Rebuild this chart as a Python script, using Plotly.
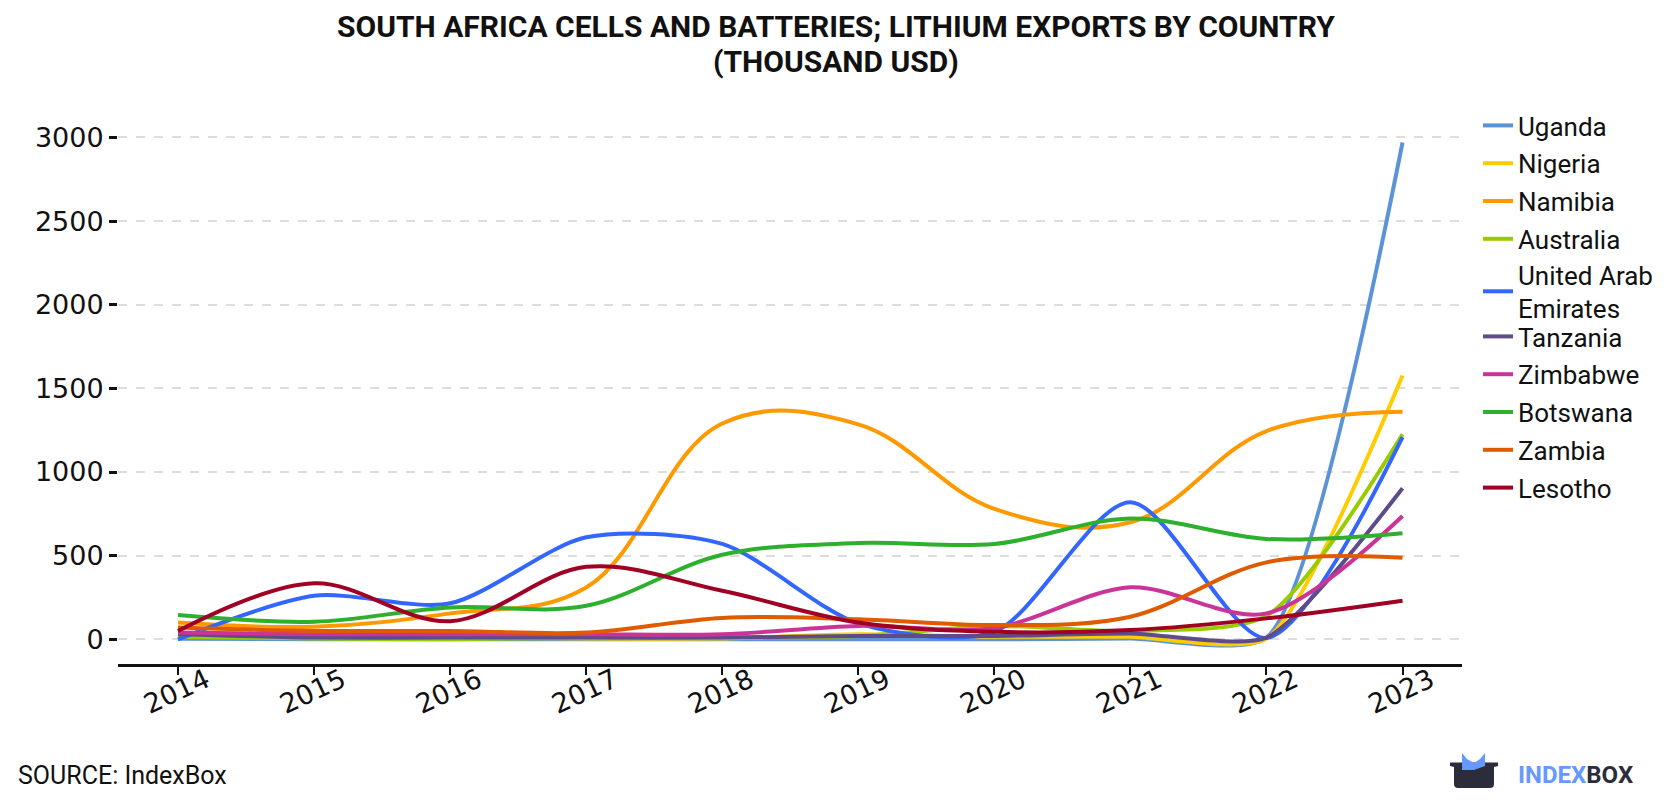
import plotly.graph_objects as go

years = [2014, 2015, 2016, 2017, 2018, 2019, 2020, 2021, 2022, 2023]

uganda = [3, 0, 0, 0, 0, 0, 0, 5, 10, 2970]
nigeria = [20, 10, 10, 5, 5, 30, 15, 15, 5, 1577]
namibia = [100, 75, 155, 310, 1290, 1285, 780, 700, 1245, 1361]
australia = [15, 5, 0, 10, 10, 20, 80, 50, 140, 1226]
uae = [0, 260, 215, 610, 570, 95, 45, 820, 8, 1208]
tanzania = [30, 10, 10, 10, 10, 20, 20, 35, 10, 903]
zimbabwe = [40, 30, 30, 30, 30, 80, 67, 311, 155, 737]
botswana = [145, 105, 190, 200, 505, 575, 570, 722, 600, 634]
zambia = [70, 50, 50, 40, 128, 120, 85, 135, 460, 488]
lesotho = [50, 335, 108, 433, 290, 100, 45, 55, 125, 231]

series = [
    ("Uganda", uganda, "#5B93D7", 0.6, "legend"),
    ("Nigeria", nigeria, "#FFCC00", 0.6, "legend"),
    ("Namibia", namibia, "#FF9900", 1.1, "legend"),
    ("Australia", australia, "#99CC00", 0.7, "legend"),
    ("United Arab<br>Emirates", uae, "#3366FF", 0.8, "legend3"),
    ("Tanzania", tanzania, "#5E4C8A", 0.6, "legend2"),
    ("Zimbabwe", zimbabwe, "#CC3399", 0.9, "legend2"),
    ("Botswana", botswana, "#2DB02D", 1.0, "legend2"),
    ("Zambia", zambia, "#E05A00", 1.0, "legend2"),
    ("Lesotho", lesotho, "#A10025", 1.0, "legend2"),
]

W, H = 1680, 800
ML, MR, MT, MB = 118, 218, 100, 136
PW, PH = W - ML - MR, H - MT - MB


def px(x):
    return (x - ML) / PW


def py(y):
    return (H - MB - y) / PH


fig = go.Figure()
for i, (name, vals, col, sm, lg) in enumerate(series):
    fig.add_trace(go.Scatter(
        x=years, y=vals, name=name, mode="lines",
        line=dict(color=col, width=4, shape="spline", smoothing=sm),
        legendgroup=f"g{i}", legend=lg,
    ))

shapes = [
    dict(type="path", xref="paper", yref="paper",
         path=(f"M {px(1450)},{py(762.5)} L {px(1498)},{py(762.5)} L {px(1498)},{py(766)} "
               f"L {px(1494)},{py(767)} L {px(1494)},{py(784)} Q {px(1494)},{py(788)} {px(1490)},{py(788)} "
               f"L {px(1458)},{py(788)} Q {px(1454)},{py(788)} {px(1454)},{py(784)} L {px(1454)},{py(767)} "
               f"L {px(1450)},{py(766)} Z"),
         fillcolor="#2B2D3A", line=dict(width=0)),
    dict(type="path", xref="paper", yref="paper",
         path=(f"M {px(1462)},{py(770)} L {px(1462)},{py(753)} L {px(1467)},{py(759)} "
               f"L {px(1474)},{py(763)} L {px(1480)},{py(759)} L {px(1485)},{py(753)} "
               f"L {px(1485)},{py(766)} L {px(1474)},{py(770)} Z"),
         fillcolor="#6699FF", line=dict(width=0)),
]

title_font = dict(family="Roboto", size=30, color="#111111")
annotations = [
    dict(text="<b>SOUTH AFRICA CELLS AND BATTERIES; LITHIUM EXPORTS BY COUNTRY</b>",
         xref="paper", yref="paper", x=px(836), y=py(26), xanchor="center", yanchor="middle",
         showarrow=False, font=title_font),
    dict(text="<b>(THOUSAND USD)</b>",
         xref="paper", yref="paper", x=px(836), y=py(61), xanchor="center", yanchor="middle",
         showarrow=False, font=title_font),
    dict(text="SOURCE: IndexBox", xref="paper", yref="paper",
         x=px(16), y=py(775), xanchor="left", yanchor="middle", showarrow=False,
         font=dict(family="Roboto", size=25, color="#111111")),
    dict(text="<b><span style='color:#6699FF'>INDEX</span><span style='color:#2B2D3A'>BOX</span></b>",
         xref="paper", yref="paper", x=px(1516), y=py(775), xanchor="left", yanchor="middle",
         showarrow=False, font=dict(family="Roboto", size=24)),
]

legend_style = dict(xanchor="left", yanchor="top",
                    font=dict(family="Roboto", size=26, color="#111111"),
                    tracegroupgap=1, itemwidth=30, bgcolor="rgba(0,0,0,0)")

fig.update_layout(
    width=W, height=H,
    margin=dict(l=ML, r=MR, t=MT, b=MB, autoexpand=False),
    paper_bgcolor="white", plot_bgcolor="white",
    showlegend=True,
    legend=dict(x=px(1478), y=py(102), **legend_style),
    legend3=dict(x=px(1478), y=py(251), **legend_style),
    legend2=dict(x=px(1478), y=py(313), **legend_style),
    shapes=shapes,
    annotations=annotations,
    xaxis=dict(range=[2013.559, 2023.437], tickvals=years, ticktext=[str(y) for y in years],
               showgrid=False, showline=True, linecolor="#111111", linewidth=3,
               ticks="outside", ticklen=8, tickwidth=2, tickcolor="#111111",
               tickangle=-25, ticklabelshift=28, ticklabelstandoff=-21,
               tickfont=dict(family="DejaVu Sans", size=27, color="#111111"), zeroline=False),
    yaxis=dict(range=[-147.7, 3224], tickvals=[0, 500, 1000, 1500, 2000, 2500, 3000],
               showgrid=True, gridcolor="#DDDDDD", griddash="dash", gridwidth=2,
               showline=False, ticks="outside", ticklen=8, tickwidth=3, tickcolor="#111111",
               tickfont=dict(family="DejaVu Sans", size=27, color="#111111"), zeroline=False),
)

fig.write_html("out.html")
